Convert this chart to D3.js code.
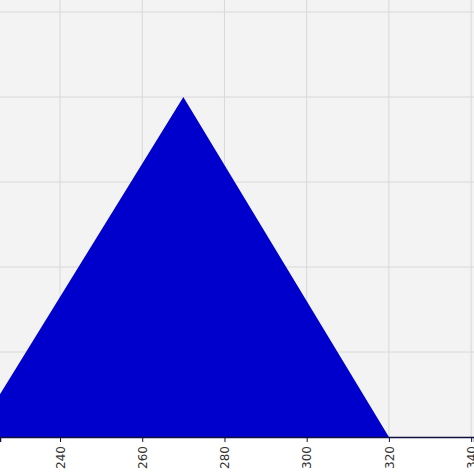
<!DOCTYPE html><html><head><script src="https://cdn.jsdelivr.net/npm/d3@7"></script>
<style>body{margin:0}svg{display:block}</style></head><body><script>
const xs=[219,270,320,340];
const ys=[0,4,0,0];
const xTicks=[240,260,280,300,320,340];
const yGrid=[1,2,3,4,5];
const W=474,H=474;
const svg=d3.select("body").append("svg").attr("width",W).attr("height",H);
svg.append("rect").attr("width",W).attr("height",H).attr("fill","#fff");
const x=d3.scaleLinear().domain([225.4,340.7]).range([0,474]);
const y=d3.scaleLinear().domain([0,5]).range([437,12]);
svg.append("rect").attr("x",0).attr("y",0).attr("width",W).attr("height",437).attr("fill","#f3f3f3");
const g=svg.append("g");
g.selectAll(".vg").data(xTicks).join("line").attr("x1",d=>x(d)).attr("x2",d=>x(d)).attr("y1",0).attr("y2",437).attr("stroke","#d8d8d8");
g.selectAll(".hg").data(yGrid).join("line").attr("x1",0).attr("x2",W).attr("y1",d=>y(d)).attr("y2",d=>y(d)).attr("stroke","#d8d8d8");
const pts=xs.map((v,i)=>[v,ys[i]]);
svg.append("path").datum(pts).attr("d",d3.area().x(d=>x(d[0])).y0(y(0)).y1(d=>y(d[1]))).attr("fill","#0000cc");
const ax=svg.append("g").attr("transform","translate(0,437)").call(d3.axisBottom(x).tickValues(xTicks).tickSize(5).tickFormat(d3.format("d")));
ax.select(".domain").attr("stroke","#101040").attr("stroke-width",1.5);
ax.selectAll(".tick line").attr("stroke","#101040");
ax.selectAll("text").attr("transform","rotate(-90)").attr("text-anchor","end").attr("x",-9).attr("y",0).attr("dy","0.35em").attr("font-size",12).attr("font-family","DejaVu Sans").attr("fill","#333");
</script></body></html>
